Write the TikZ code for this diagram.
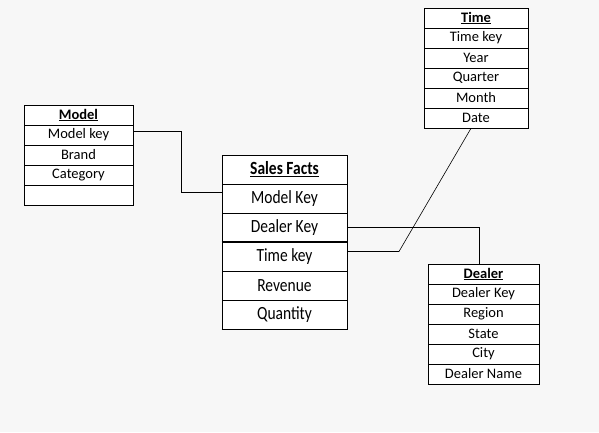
\documentclass[tikz,border=0pt]{standalone}
\usepackage{fontspec}
\setmainfont{Carlito}
\begin{document}
\begin{tikzpicture}[x=1pt,y=-1pt,line width=0.6pt,
  cell/.style={draw,fill=white,inner sep=0pt,font=\fontsize{14.5}{14.5}\selectfont},
  small/.style={cell,minimum height=20pt},
  fact/.style={cell,minimum width=125pt,minimum height=29pt,font=\fontsize{15.5}{15.5}\selectfont}]
% background
\fill[gray!6] (0,0) rectangle (599,432);
\useasboundingbox (0,0) rectangle (599,432);

% Model
\foreach \n/\t [count=\i from 0] in {mtitle/{\textbf{\underline{Model}}},mkey/Model key,mbrand/Brand,mcat/Category,mempty/{}}
  \node[small,minimum width=109pt] (\n) at (78.5,115+20*\i) {\t};

% Time
\foreach \n/\t [count=\i from 0] in {ttitle/{\textbf{\underline{Time}}},tkey/Time key,tyear/Year,tquarter/Quarter,tmonth/Month,tdate/Date}
  \node[small,minimum width=104pt] (\n) at (476,18+20*\i) {\t};

% Dealer
\foreach \n/\t [count=\i from 0] in {dtitle/{\textbf{\underline{Dealer}}},dkey/Dealer Key,dregion/Region,dstate/State,dcity/City,dname/Dealer Name}
  \node[small,minimum width=111pt] (\n) at (483.5,274+20*\i) {\t};

% Sales Facts
\foreach \n/\t [count=\i from 0] in {stitle/{\textbf{\underline{Sales Facts}}},smodel/Model Key,sdealer/Dealer Key,stime/Time key,srev/Revenue,sqty/Quantity}
  \node[fact] (\n) at (284.5,169.5+29*\i) {\scalebox{1}[1.2]{\t}};
\draw[thick] (stime.north west) -- (stime.north east);
\draw[thick] (sqty.south west) -- (sqty.south east);

% connectors
\coordinate (mbend) at (181,0);
\coordinate (tbend) at (399,0);
\draw ([yshift=4pt]mkey.east) coordinate (m0) -- (m0 -| mbend) |- ([yshift=6pt]smodel.west);
\draw (sdealer.east) -| ([xshift=-4pt]dtitle.north);
\draw ([yshift=5pt]stime.east) coordinate (t0) -- (t0 -| tbend) -- ([xshift=-5pt]tdate.south);
\end{tikzpicture}
\end{document}
